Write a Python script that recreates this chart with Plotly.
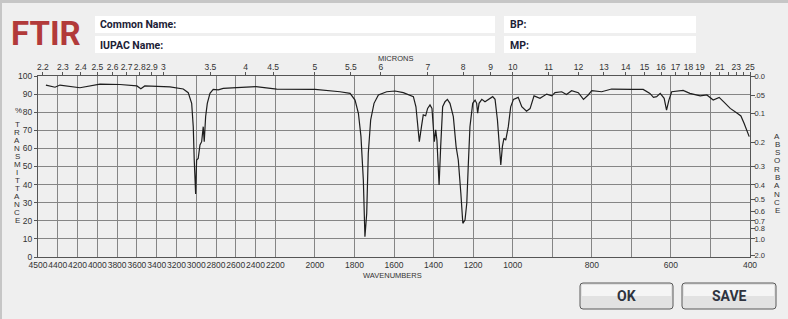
import numpy as np
import plotly.graph_objects as go

# ---------------- data ----------------
WN = [4460, 4414, 4378, 4176, 3973, 3771, 3600, 3560, 3520, 3266, 3131, 3081, 3046, 3030,
      3020, 3006, 2996, 2980, 2962, 2945, 2929, 2919, 2905, 2888, 2861, 2828, 2777, 2727,
      2591, 2396, 2193, 1999, 1873, 1822, 1797, 1780, 1767, 1755, 1747, 1738, 1730, 1718,
      1701, 1679, 1637, 1595, 1553, 1502, 1489, 1480, 1472, 1460, 1452, 1440, 1430, 1418,
      1408, 1396, 1389, 1383, 1372, 1364, 1354, 1342, 1330, 1317, 1300, 1286, 1275, 1262,
      1252, 1241, 1232, 1224, 1216, 1202, 1190, 1182, 1177, 1170, 1156, 1140, 1123, 1101,
      1089, 1077, 1067, 1060, 1052, 1044, 1035, 1022, 1010, 998, 986, 977, 965, 956, 946,
      931, 914, 901, 893, 876, 864, 851, 834, 821, 809, 800, 775, 750, 699, 670, 653, 644,
      636, 627, 617, 611, 605, 598, 569, 552, 526, 509, 493, 478, 467, 450, 434, 423, 415,
      408, 405, 402]
T = [95.0, 93.8, 95.0, 93.5, 95.5, 95.3, 94.5, 93.0, 94.5, 94.0, 92.8, 90.8, 84.9, 72.0,
     53.6, 34.8, 53.6, 54.5, 61.9, 63.7, 72.0, 63.7, 77.5, 84.9, 90.4, 92.6, 92.3, 93.2,
     93.6, 94.1, 92.8, 92.6, 91.3, 90.4, 86.7, 79.4, 66.5, 42.5, 11.2, 24.0, 57.3, 75.7,
     84.9, 89.5, 91.3, 91.7, 90.8, 88.6, 83.0, 72.0, 63.7, 72.9, 78.5, 78.0, 82.1, 84.0,
     82.1, 63.7, 70.2, 64.6, 39.8, 61.0, 83.0, 85.8, 87.1, 84.9, 77.5, 61.0, 53.6, 35.2,
     18.6, 20.4, 29.7, 51.8, 72.0, 84.9, 86.7, 84.9, 79.4, 84.9, 87.1, 85.8, 87.1, 88.6,
     87.1, 75.7, 61.0, 50.8, 61.0, 65.6, 64.6, 72.0, 83.0, 87.1, 88.2, 83.0, 80.5, 82.0, 89.0,
     87.7, 90.0, 89.0, 90.8, 91.3, 89.8, 91.9, 90.8, 87.1, 89.5, 91.9, 91.3, 92.8, 92.6, 92.6, 90.4, 88.2,
     88.6, 90.4, 87.7, 81.2, 86.7, 91.3, 92.0, 90.4, 89.0, 89.5, 86.7, 88.2, 85.8, 82.1, 79.7,
     77.9, 73.9, 70.2, 68.5, 66.5]

# chart's piecewise wavenumber scale (breakpoints of the printed axis)
WN_BREAKS = [400, 1000, 2200, 4400, 4500]
U_BREAKS = [720, 480, 240, 20, 0]

BOTTOM_TICKS = [4500, 4400, 4200, 4000, 3800, 3600, 3400, 3200, 3000, 2800, 2600, 2400, 2200,
                2000, 1800, 1600, 1400, 1200, 1000, 900, 800, 700, 600, 500, 400]
BOTTOM_LABELS = ["4500", "4400", "4200", "4000", "3800", "3600", "3400", "3200", "3000", "2800",
                 "2600", "2400", "2200", "2000", "1800", "1600", "1400", "1200", "1000", "",
                 "800", "", "600", "", "400"]
MICRON_TICKS = [2.2, 2.3, 2.4, 2.5, 2.6, 2.7, 2.8, 2.9, 3, 3.5, 4, 4.5, 5, 5.5, 6, 7, 8, 9, 10,
                11, 12, 13, 14, 15, 16, 17, 18, 19, 20, 21, 22, 23, 24, 25]
MICRON_LABELS = ["2.2", "2.3", "2.4", "2.5", "2.6", "2.7", "2.8", "2.9", "3", "3.5", "4", "4.5",
                 "5", "5.5", "6", "7", "8", "9", "10", "11", "12", "13", "14", "15", "16", "17",
                 "18", "19", "", "21", "", "23", "", "25"]
Y_TICKS = [0, 10, 20, 30, 40, 50, 60, 70, 80, 90, 100]
ABS_TICKS = [0.0, 0.05, 0.1, 0.2, 0.3, 0.4, 0.5, 0.6, 0.7, 0.8, 1.0, 2.0]
ABS_LABELS = ["0.0", ".05", "0.1", "0.2", "0.3", "0.4", "0.5", "0.6", "0.7", "0.8", "1.0", "2.0"]


def to_u(wn):
    return np.interp(np.asarray(wn, dtype=float), WN_BREAKS, U_BREAKS)


x_spec = to_u(WN)
bottom_pos = to_u(BOTTOM_TICKS)
micron_pos = np.clip(to_u(10000.0 / np.asarray(MICRON_TICKS)), 5, 720)
abs_pos = 100 * 10 ** (-np.asarray(ABS_TICKS))

# ---------------- layout helpers ----------------
W, H = 788, 319
L, R, TOP, BOT = 38, 750, 76, 257


def px(x):
    return (x - L) / (R - L)


def py(y):
    return (BOT - y) / (BOT - TOP)


BG = "#efefef"
GRID = "#858585"
FRAME = "#555555"
TXT = "#333333"
TICKFONT = dict(family="Liberation Sans, Arial, sans-serif", size=8.5, color=TXT)
RTICKFONT = dict(family="Liberation Sans, Arial, sans-serif", size=7.5, color=TXT)
COND = "Roboto, Liberation Sans, sans-serif"

fig = go.Figure()
fig.add_trace(go.Scatter(x=x_spec, y=T, mode="lines",
                         line=dict(color="#1e1e1e", width=1.2),
                         hoverinfo="skip", showlegend=False))
# invisible trace to activate secondary axes
fig.add_trace(go.Scatter(x=[0], y=[0], xaxis="x2", yaxis="y2", mode="markers",
                         marker=dict(opacity=0), showlegend=False, hoverinfo="skip"))

shapes = []
# window frame
shapes.append(dict(type="rect", xref="paper", yref="paper", x0=px(0), x1=px(W),
                   y0=py(0), y1=py(3), fillcolor="#c6c6c6", line=dict(width=0), layer="above"))
shapes.append(dict(type="rect", xref="paper", yref="paper", x0=px(0), x1=px(2),
                   y0=py(0), y1=py(H), fillcolor="#c6c6c6", line=dict(width=0), layer="above"))
# white header boxes
for (x0, x1, y0, y1) in [(95, 495, 16, 33), (95, 495, 36, 53), (504, 696, 16, 33), (504, 696, 36, 53)]:
    shapes.append(dict(type="rect", xref="paper", yref="paper", x0=px(x0), x1=px(x1),
                       y0=py(y1), y1=py(y0), fillcolor="white", line=dict(width=0)))


def rrect(x0, y0, x1, y1, r=3):
    # rounded rectangle path in paper units
    rx = r / (R - L)
    ry = r / (BOT - TOP)
    a0, a1 = px(x0), px(x1)
    b0, b1 = py(y1), py(y0)  # bottom, top
    return (f"M {a0+rx},{b1} L {a1-rx},{b1} Q {a1},{b1} {a1},{b1-ry} "
            f"L {a1},{b0+ry} Q {a1},{b0} {a1-rx},{b0} L {a0+rx},{b0} "
            f"Q {a0},{b0} {a0},{b0+ry} L {a0},{b1-ry} Q {a0},{b1} {a0+rx},{b1} Z")


for (x0, x1) in [(580, 673), (682, 776)]:
    shapes.append(dict(type="path", xref="paper", yref="paper", path=rrect(x0, 283, x1, 309),
                       fillcolor="#e2e2e2", line=dict(color="#5a5a5a", width=1)))
    shapes.append(dict(type="rect", xref="paper", yref="paper", x0=px(x0 + 2), x1=px(x1 - 2),
                       y0=py(296), y1=py(285), fillcolor="#f5f5f5", line=dict(width=0)))

annotations = []


def add_text(x, y, text, size, color=TXT, family="Liberation Sans, Arial, sans-serif",
             xanchor="center", bold=False):
    t = f"<b>{text}</b>" if bold else text
    annotations.append(dict(x=px(x), y=py(y), xref="paper", yref="paper", text=t,
                            showarrow=False, xanchor=xanchor, yanchor="middle",
                            font=dict(size=size, color=color, family=family)))


add_text(9, 33, "FTIR", 33, color="#b23a3a", family=COND, xanchor="left", bold=True)
NAVY = "#1c2136"
add_text(98, 25, "Common Name:", 10.5, color=NAVY, family=COND, xanchor="left", bold=True)
add_text(98, 45, "IUPAC Name:", 10.5, color=NAVY, family=COND, xanchor="left", bold=True)
add_text(508, 25, "BP:", 10.5, color=NAVY, family=COND, xanchor="left", bold=True)
add_text(508, 45, "MP:", 10.5, color=NAVY, family=COND, xanchor="left", bold=True)
add_text(626, 296, "OK", 14, color="#2f3440", family=COND, bold=True)
add_text(729, 296, "SAVE", 14, color="#2f3440", family=COND, bold=True)
add_text(395, 58.5, "MICRONS", 7.5)
add_text(392, 275, "WAVENUMBERS", 7.5)
add_text(18, 110, "%", 8)
for i, ch in enumerate("TRANSMITTANCE"):
    add_text(17, 124 + i * 8.08, ch, 8)
for i, ch in enumerate("ABSORBANCE"):
    add_text(777, 136 + i * 8.3, ch, 8)

fig.update_layout(
    width=W, height=H,
    margin=dict(l=L, r=W - R, t=TOP, b=H - BOT, pad=0),
    paper_bgcolor=BG, plot_bgcolor=BG,
    showlegend=False,
    shapes=shapes, annotations=annotations,
    xaxis=dict(range=[0, 720], tickvals=bottom_pos, ticktext=BOTTOM_LABELS,
               showgrid=True, gridcolor=GRID, gridwidth=1, zeroline=False,
               showline=True, linecolor=FRAME, linewidth=1, mirror=True,
               ticks="", tickfont=TICKFONT, tickangle=0, fixedrange=True),
    xaxis2=dict(range=[0, 720], overlaying="x", side="top", anchor="y",
                tickvals=micron_pos, ticktext=MICRON_LABELS, showgrid=False,
                zeroline=False, showline=False, ticks="outside", ticklen=3,
                tickcolor=FRAME, tickfont=TICKFONT, tickangle=0, ticklabelstandoff=-1),
    yaxis=dict(range=[0, 100], tickvals=Y_TICKS, ticktext=[str(v) for v in Y_TICKS],
               showgrid=True, gridcolor=GRID, gridwidth=1, zeroline=False,
               showline=True, linecolor=FRAME, linewidth=1, mirror=True,
               ticks="outside", ticklen=3, tickcolor=FRAME, tickfont=TICKFONT),
    yaxis2=dict(range=[0, 100], overlaying="y", side="right", anchor="x",
                tickvals=abs_pos, ticktext=ABS_LABELS, showgrid=False, zeroline=False,
                showline=False, ticks="outside", ticklen=4, tickcolor=FRAME,
                tickfont=RTICKFONT, ticklabelstandoff=-2),
)

fig.write_html("out.html")
